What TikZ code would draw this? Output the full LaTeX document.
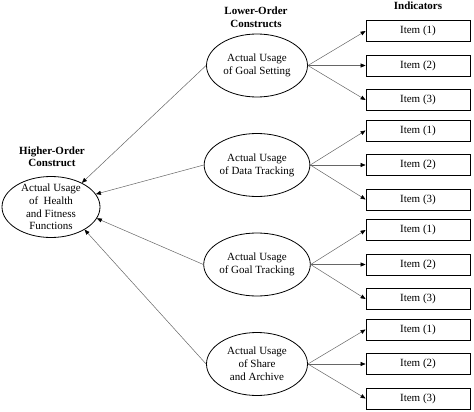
\documentclass[tikz,border=0pt]{standalone}
\usepackage{fontspec}
\setmainfont{Liberation Serif}
\usetikzlibrary{positioning, shapes.geometric, arrows.meta, shadows}

\begin{document}
\begin{tikzpicture}[
    x=1pt, y=-1pt,
    font=\fontsize{11}{12.8}\selectfont,
    node distance=12.7pt,
    arrow/.style={
        -{Triangle[length=5pt, width=4pt, black]},
        draw=black!60,
        line width=0.5pt
    },
    construct/.style={
        ellipse,
        draw,
        line width=0.8pt,
        minimum width=101pt,
        minimum height=63pt,
        inner xsep=0pt,
        inner ysep=-1pt,
        align=center
    },
    item/.style={
        rectangle,
        draw,
        fill=white,
        line width=0.8pt,
        minimum width=104pt,
        minimum height=21pt,
        inner sep=0pt,
        drop shadow={shadow xshift=0.8pt, shadow yshift=-0.8pt, opacity=1, fill=black}
    },
    heading/.style={
        font=\fontsize{11}{12.5}\selectfont\bfseries,
        align=center
    }
]
    \useasboundingbox (0,0) rectangle (474,412);

    % Headings
    \node[heading] (hhigh) at (52,157) {Higher-Order\\Construct};
    \node[heading] (hlow) at (256,17.5) {Lower-Order\\Constructs};
    \node[heading] (hind) at (418,6) {Indicators};

    % Higher-order construct
    \node[construct, minimum width=98pt, minimum height=61pt, inner ysep=-3pt] (ho) at (51,207)
        {Actual Usage\\of~ Health\\and Fitness\\Functions};

    % Lower-order constructs
    \node[construct] (gs) at (257,65.5) {Actual Usage\\of Goal Setting};
    \node[construct] (dt) at (257,165) {Actual Usage\\of Data Tracking};
    \node[construct] (gt) at (257,264.5) {Actual Usage\\of Goal Tracking};
    \node[construct] (sa) at (257,364) {Actual Usage\\of Share\\and Archive};

    % Indicators
    \node[item] (gs2) at (418,65.5) {Item (2)};
    \node[item, above=of gs2] (gs1) {Item (1)};
    \node[item, below=of gs2] (gs3) {Item (3)};

    \node[item] (dt2) at (418,165) {Item (2)};
    \node[item, above=of dt2] (dt1) {Item (1)};
    \node[item, below=of dt2] (dt3) {Item (3)};

    \node[item] (gt2) at (418,264.5) {Item (2)};
    \node[item, above=of gt2] (gt1) {Item (1)};
    \node[item, below=of gt2] (gt3) {Item (3)};

    \node[item] (sa2) at (418,364) {Item (2)};
    \node[item, above=of sa2] (sa1) {Item (1)};
    \node[item, below=of sa2] (sa3) {Item (3)};

    % Lower to higher order
    \draw[arrow] (gs.west) -- (ho.38);
    \draw[arrow] (dt.west) -- (ho.16);
    \draw[arrow] (gt.west) -- (ho.-14);
    \draw[arrow] (sa.west) -- (ho.-34);

    % Constructs to indicators
    \draw[arrow] (gs.east) -- (gs1.west);
    \draw[arrow] (gs.east) -- (gs2.west);
    \draw[arrow] (gs.east) -- (gs3.west);

    \draw[arrow] (dt.east) -- (dt1.west);
    \draw[arrow] (dt.east) -- (dt2.west);
    \draw[arrow] (dt.east) -- (dt3.west);

    \draw[arrow] (gt.east) -- (gt1.west);
    \draw[arrow] (gt.east) -- (gt2.west);
    \draw[arrow] (gt.east) -- (gt3.west);

    \draw[arrow] (sa.east) -- (sa1.west);
    \draw[arrow] (sa.east) -- (sa2.west);
    \draw[arrow] (sa.east) -- (sa3.west);
\end{tikzpicture}
\end{document}
